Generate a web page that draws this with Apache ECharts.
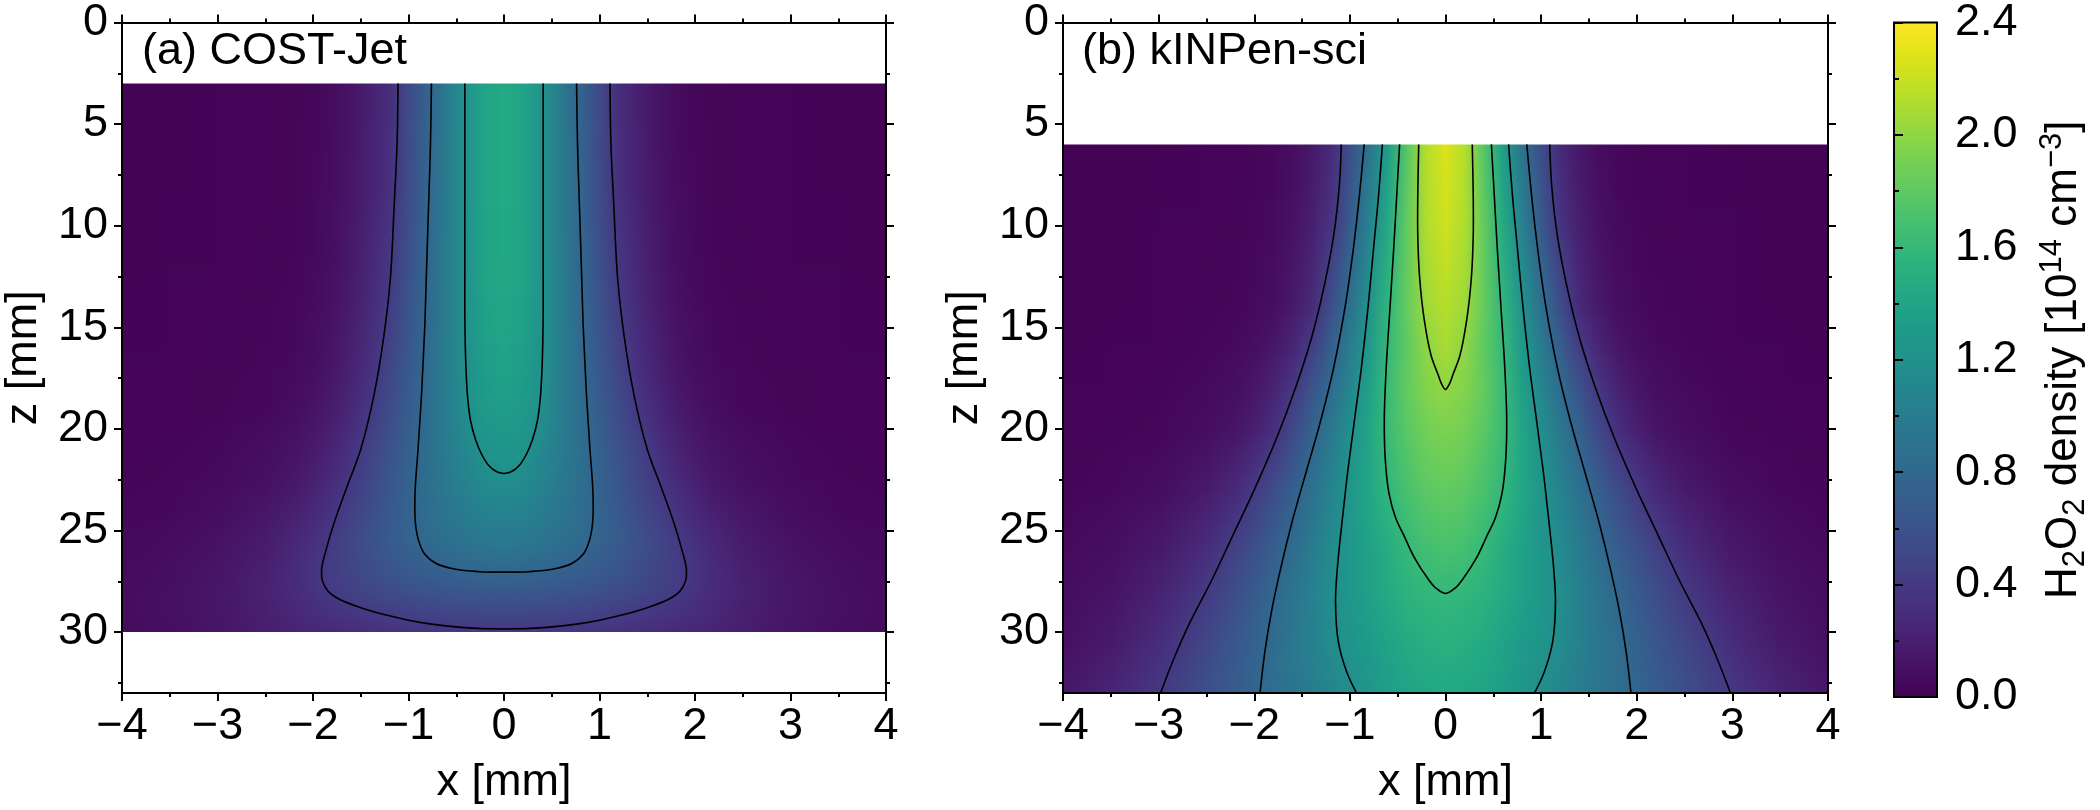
<!DOCTYPE html>
<html>
<head>
<meta charset="UTF-8">
<title>H2O2 density maps</title>
<script src="https://cdn.jsdelivr.net/npm/echarts@6.0.0/dist/echarts.min.js"></script>
<style>html,body{margin:0;padding:0;background:#fff;}</style>
</head>
<body>
<div id="chart" style="width:2100px;height:810px;"></div>
<script>
var FONT = '"Liberation Sans", Arial, sans-serif';
var FS = 45;

// half profile positions in mm, the maps are symmetric about x = 0
var xSamples = [0, 0.2, 0.4, 0.6, 0.8, 1.0, 1.2, 1.4, 1.6, 1.8, 2.0, 2.2, 2.5, 3.0, 3.5, 4.0];

// (a) COST-Jet, density [1e14 cm^-3] per row z
var zRowsA = [3, 8, 13, 17, 19, 21, 22.5, 24, 25.5, 27, 28, 29, 30];
var densA = [
  [1.45,1.40,1.21,0.98,0.75,0.52,0.31,0.21,0.13,0.07,0.04,0.03,0.02,0.02,0.01,0.01],
  [1.45,1.40,1.21,0.99,0.78,0.54,0.33,0.22,0.14,0.08,0.05,0.03,0.02,0.02,0.01,0.01],
  [1.43,1.38,1.21,1.00,0.80,0.60,0.40,0.27,0.17,0.10,0.06,0.04,0.03,0.02,0.02,0.01],
  [1.38,1.33,1.20,1.01,0.83,0.66,0.49,0.33,0.22,0.14,0.09,0.06,0.04,0.03,0.02,0.02],
  [1.33,1.29,1.18,1.01,0.85,0.69,0.54,0.39,0.27,0.18,0.12,0.08,0.05,0.03,0.02,0.02],
  [1.25,1.22,1.11,0.99,0.86,0.73,0.60,0.47,0.34,0.24,0.17,0.12,0.08,0.05,0.03,0.02],
  [1.18,1.15,1.07,0.97,0.86,0.75,0.63,0.51,0.39,0.29,0.21,0.15,0.10,0.06,0.04,0.03],
  [1.08,1.06,1.00,0.93,0.85,0.76,0.66,0.55,0.45,0.35,0.27,0.20,0.14,0.08,0.05,0.04],
  [0.98,0.96,0.92,0.87,0.82,0.76,0.68,0.59,0.50,0.41,0.33,0.26,0.18,0.11,0.07,0.05],
  [0.80,0.79,0.77,0.74,0.71,0.67,0.62,0.56,0.49,0.43,0.36,0.29,0.21,0.13,0.09,0.06],
  [0.67,0.66,0.65,0.63,0.61,0.58,0.54,0.50,0.45,0.41,0.35,0.29,0.22,0.14,0.10,0.07],
  [0.52,0.52,0.51,0.50,0.48,0.46,0.44,0.41,0.38,0.35,0.31,0.27,0.21,0.14,0.10,0.07],
  [0.38,0.38,0.38,0.37,0.36,0.35,0.34,0.32,0.30,0.28,0.26,0.23,0.19,0.13,0.09,0.07]
];

// (b) kINPen-sci
var zRowsB = [6, 10, 14, 16, 18, 20, 23, 26, 28, 30.5, 33];
var densB = [
  [2.27,2.13,1.76,1.33,0.91,0.55,0.28,0.15,0.08,0.05,0.03,0.02,0.02,0.01,0.01,0.01],
  [2.22,2.11,1.82,1.46,1.06,0.68,0.36,0.20,0.11,0.06,0.04,0.03,0.02,0.02,0.01,0.01],
  [2.13,2.05,1.83,1.57,1.22,0.88,0.56,0.28,0.16,0.09,0.06,0.04,0.03,0.02,0.01,0.01],
  [2.08,1.99,1.80,1.60,1.29,1.00,0.71,0.43,0.25,0.14,0.09,0.06,0.04,0.02,0.02,0.01],
  [2.00,1.95,1.82,1.63,1.36,1.09,0.83,0.60,0.38,0.23,0.14,0.09,0.06,0.03,0.02,0.02],
  [1.93,1.89,1.78,1.63,1.41,1.18,0.95,0.73,0.51,0.32,0.20,0.13,0.08,0.04,0.03,0.02],
  [1.82,1.79,1.70,1.58,1.42,1.25,1.07,0.88,0.71,0.55,0.40,0.28,0.17,0.08,0.05,0.03],
  [1.70,1.67,1.60,1.48,1.37,1.26,1.14,0.99,0.84,0.71,0.58,0.46,0.31,0.16,0.09,0.06],
  [1.60,1.58,1.54,1.46,1.37,1.27,1.17,1.04,0.91,0.79,0.67,0.56,0.40,0.22,0.12,0.08],
  [1.52,1.50,1.46,1.39,1.31,1.23,1.15,1.04,0.94,0.84,0.74,0.64,0.50,0.30,0.17,0.10],
  [1.44,1.43,1.39,1.33,1.25,1.17,1.09,1.01,0.93,0.86,0.78,0.70,0.58,0.39,0.24,0.15]
];

// contour lines, left half (x <= 0), mirrored for the right side
var contourA04 = [[-1.11,3],[-1.12,6],[-1.15,9],[-1.19,12.6],[-1.26,15.5],[-1.36,18.3],[-1.50,21],[-1.64,22.8],[-1.77,24.5],[-1.86,25.9],[-1.91,26.9],[-1.90,27.5],[-1.84,28.0],[-1.72,28.4],[-1.50,28.8],[-1.20,29.2],[-0.85,29.55],[-0.45,29.77],[0,29.85]];
var contourA08 = [[-0.76,3],[-0.77,6],[-0.79,9],[-0.81,12],[-0.83,15],[-0.86,18],[-0.90,21],[-0.93,23],[-0.93,24.5],[-0.90,25.4],[-0.84,26.1],[-0.72,26.6],[-0.52,26.9],[-0.26,27.03],[0,27.05]];
var contourA12 = [[-0.41,3],[-0.41,6],[-0.41,9],[-0.41,12],[-0.41,14.5],[-0.40,16.8],[-0.38,18.5],[-0.35,19.6],[-0.30,20.5],[-0.24,21.2],[-0.16,21.8],[-0.08,22.1],[0,22.2]];

var contourB04 = [[-1.09,6],[-1.11,8],[-1.17,10.5],[-1.27,13],[-1.40,15.5],[-1.57,18],[-1.77,20.5],[-2.00,23],[-2.23,25.3],[-2.45,27.5],[-2.67,29.5],[-2.84,31.3],[-2.98,33]];
var contourB08 = [[-0.85,6],[-0.90,8.5],[-0.96,11],[-1.05,14],[-1.17,17],[-1.30,19.5],[-1.45,22],[-1.60,24.5],[-1.73,27],[-1.82,29],[-1.89,31],[-1.94,33]];
var contourB12 = [[-0.66,6],[-0.70,8.5],[-0.75,11],[-0.81,14],[-0.88,17],[-0.95,19.5],[-1.02,22],[-1.08,24.5],[-1.13,26.8],[-1.15,28.5],[-1.12,30.5],[-1.03,32],[-0.93,33]];
var contourB16 = [[-0.48,6],[-0.51,8.5],[-0.54,11],[-0.58,14],[-0.62,17],[-0.64,19.5],[-0.63,21.5],[-0.59,23.2],[-0.52,24.4],[-0.43,25.3],[-0.33,26.3],[-0.18,27.4],[-0.11,27.8],[0,28.1]];
var contourB20 = [[-0.28,6],[-0.29,8.5],[-0.29,10.5],[-0.27,12.6],[-0.22,14.7],[-0.15,16.4],[-0.08,17.3],[-0.04,17.8],[0,18.06]];

var zMajor = [0, 5, 10, 15, 20, 25, 30];
var zMinor = [2.5, 7.5, 12.5, 17.5, 22.5, 27.5, 32.5];

var viridis = ['#440154','#471365','#482475','#463480','#414487','#3b528b','#355f8d','#2f6c8e','#2a788e','#25848e',
  '#21918c','#1e9c89','#22a884','#2fb47c','#44bf70','#5ec962','#7ad151','#9bd93c','#bddf26','#dfe318','#fde725'];
var VMAX = 2.4;

function hex(c) { return [parseInt(c.substr(1,2),16), parseInt(c.substr(3,2),16), parseInt(c.substr(5,2),16)]; }
function cmap(v) {
  var t = Math.max(0, Math.min(1, v / VMAX)) * (viridis.length - 1);
  var i = Math.min(Math.floor(t), viridis.length - 2), f = t - i;
  var a = hex(viridis[i]), b = hex(viridis[i + 1]);
  return 'rgb(' + Math.round(a[0] + (b[0]-a[0])*f) + ',' + Math.round(a[1] + (b[1]-a[1])*f) + ',' + Math.round(a[2] + (b[2]-a[2])*f) + ')';
}
function profileStops(prof) {
  var stops = [], j;
  for (j = xSamples.length - 1; j > 0; j--) stops.push({offset: (4 - xSamples[j]) / 8, color: cmap(prof[j])});
  for (j = 0; j < xSamples.length; j++) stops.push({offset: (4 + xSamples[j]) / 8, color: cmap(prof[j])});
  return stops;
}

// field drawn band by band, each band shaded between its two measured rows
function fieldSeries(g, zRows, dens) {
  return {
    type: 'custom', xAxisIndex: g * 2, yAxisIndex: g * 4, silent: true, clip: true, z: 1,
    data: zRows.slice(0, -1).map(function (z, i) { return [0, z, i]; }),
    renderItem: function (params, api) {
      var i = api.value(2);
      var a = api.coord([-4, zRows[i]]), b = api.coord([4, zRows[i + 1]]);
      var h = b[1] - a[1], n = Math.max(1, Math.ceil(h / 3)), kids = [];
      var last = i === zRows.length - 2;
      for (var k = 0; k < n; k++) {
        var t = (k + 0.5) / n;
        var prof = dens[i].map(function (v, j) { return v + (dens[i + 1][j] - v) * t; });
        kids.push({
          type: 'rect',
          shape: {x: a[0], y: a[1] + h * k / n, width: b[0] - a[0], height: (last && k === n - 1) ? h / n : h / n + 0.8},
          style: {fill: new echarts.graphic.LinearGradient(0, 0, 1, 0, profileStops(prof))}
        });
      }
      return {type: 'group', children: kids};
    }
  };
}

function mirror(pts) { return pts.map(function (p) { return [-p[0], p[1]]; }); }
function closed(pts) { return pts.concat(mirror(pts.slice(0, -1)).reverse()); }

// smooth curve through the contour points (centripetal Catmull-Rom as cubic Beziers)
function curvePath(p) {
  function ctrl(a, b, c, da, db) {
    return [0, 1].map(function (k) {
      return (da * da * c[k] - db * db * a[k] + (2 * da * da + 3 * da * db + db * db) * b[k]) / (3 * da * (da + db));
    });
  }
  function d(a, b) { return Math.sqrt(Math.hypot(b[0] - a[0], b[1] - a[1])); }
  var s = 'M' + p[0][0].toFixed(2) + ' ' + p[0][1].toFixed(2);
  for (var i = 0; i < p.length - 1; i++) {
    var p0 = p[Math.max(i - 1, 0)], p1 = p[i], p2 = p[i + 1], p3 = p[Math.min(i + 2, p.length - 1)];
    var d1 = d(p0, p1), d2 = d(p1, p2), d3 = d(p2, p3);
    var c1 = d1 > 1e-6 ? ctrl(p0, p1, p2, d1, d2) : p1;
    var c2 = d3 > 1e-6 ? ctrl(p3, p2, p1, d3, d2) : p2;
    s += ' C' + c1[0].toFixed(2) + ' ' + c1[1].toFixed(2) + ' ' + c2[0].toFixed(2) + ' ' + c2[1].toFixed(2) + ' ' + p2[0].toFixed(2) + ' ' + p2[1].toFixed(2);
  }
  return s;
}
function contour(g, pts) {
  return {
    type: 'custom', xAxisIndex: g * 2, yAxisIndex: g * 4, data: pts, silent: true, clip: true, z: 3,
    renderItem: function (params, api) {
      if (params.dataIndex !== 0) return null;
      var px = pts.map(function (q) { return api.coord(q); });
      return {type: 'path', shape: {pathData: curvePath(px)}, style: {fill: null, stroke: '#000', lineWidth: 1.6}};
    }
  };
}

var tickStyle = {color: '#000', width: 2};
var labelStyle = {color: '#000', fontSize: FS, fontFamily: FONT};

function xAxes(g) {
  var base = {
    gridIndex: g, type: 'value', min: -4, max: 4, interval: 1, z: 5,
    axisLine: {show: true, onZero: false, lineStyle: tickStyle},
    axisTick: {show: true, inside: false, length: 8, lineStyle: tickStyle},
    minorTick: {show: true, splitNumber: 2, length: 4, lineStyle: tickStyle},
    splitLine: {show: false}, minorSplitLine: {show: false}
  };
  return [
    Object.assign({}, base, {
      position: 'bottom',
      axisLabel: Object.assign({margin: 11, formatter: function (v) { return v < 0 ? '\u2212' + Math.abs(v) : String(v); }}, labelStyle),
      name: 'x [mm]', nameLocation: 'middle', nameGap: 67, nameTextStyle: labelStyle
    }),
    Object.assign({}, base, {position: 'top', axisLabel: {show: false}})
  ];
}

function yAxes(g) {
  var base = {
    gridIndex: g, type: 'value', min: 0, max: 33, interval: 5, inverse: true, z: 5,
    splitLine: {show: false}
  };
  function side(pos, major) {
    return Object.assign({}, base, {
      position: pos,
      axisLine: {show: major, onZero: false, lineStyle: tickStyle},
      axisTick: {show: true, inside: false, length: major ? 8 : 4, customValues: major ? zMajor : zMinor, lineStyle: tickStyle},
      axisLabel: {show: false}
    });
  }
  var left = side('left', true);
  left.axisLabel = Object.assign({show: true, margin: 14, customValues: zMajor}, labelStyle);
  left.name = 'z [mm]';
  left.nameLocation = 'middle';
  left.nameGap = 76;
  left.nameRotate = 90;
  left.nameTextStyle = labelStyle;
  return [left, side('left', false), side('right', true), side('right', false)];
}

var chart = echarts.init(document.getElementById('chart'), null, {renderer: 'canvas'});

var option = {
  backgroundColor: '#fff',
  animation: false,
  title: [
    {text: '(a) COST-Jet', left: 142, top: 29, padding: 0, textStyle: {fontSize: FS, fontWeight: 'normal', fontFamily: FONT, color: '#000'}},
    {text: '(b) kINPen-sci', left: 1082, top: 29, padding: 0, textStyle: {fontSize: FS, fontWeight: 'normal', fontFamily: FONT, color: '#000'}}
  ],
  grid: [
    {left: 122, top: 20, width: 764, height: 677},
    {left: 1063, top: 20, width: 765, height: 677},
    {left: 1894, top: 20, width: 43, height: 677}
  ],
  xAxis: xAxes(0).concat(xAxes(1)).concat([{gridIndex: 2, type: 'value', min: 0, max: 1, show: false}]),
  yAxis: yAxes(0).concat(yAxes(1)).concat([{
    gridIndex: 2, type: 'value', min: 0, max: 2.4, interval: 0.4, position: 'right', z: 5,
    axisLine: {show: false},
    axisTick: {show: true, inside: false, length: 9, lineStyle: tickStyle},
    minorTick: {show: true, splitNumber: 2, length: 5, lineStyle: tickStyle},
    splitLine: {show: false}, minorSplitLine: {show: false},
    axisLabel: Object.assign({margin: 18, formatter: function (v) { return v.toFixed(1); }}, labelStyle),
    name: 'H{sub|2}O{sub|2} density [10{sup|14} cm{sup|\u22123}]',
    nameLocation: 'middle', nameRotate: 90, nameGap: 100,
    nameTextStyle: {
      color: '#000', fontSize: 44, fontFamily: FONT, lineHeight: 54,
      rich: {
        sub: {fontSize: 31, lineHeight: 31, verticalAlign: 'bottom', fontFamily: FONT, color: '#000'},
        sup: {fontSize: 31, lineHeight: 31, verticalAlign: 'top', fontFamily: FONT, color: '#000'}
      }
    }
  }]),
  series: [
    fieldSeries(0, zRowsA, densA),
    fieldSeries(1, zRowsB, densB),
    contour(0, closed(contourA04)),
    contour(0, closed(contourA08)),
    contour(0, closed(contourA12)),
    contour(1, contourB04), contour(1, mirror(contourB04)),
    contour(1, contourB08), contour(1, mirror(contourB08)),
    contour(1, contourB12), contour(1, mirror(contourB12)),
    contour(1, closed(contourB16)),
    contour(1, closed(contourB20)),
    {
      type: 'custom', xAxisIndex: 4, yAxisIndex: 8, silent: true, z: 4,
      data: [[0, 0]],
      renderItem: function (params, api) {
        var a = api.coord([0, VMAX]), b = api.coord([1, 0]);
        var stops = viridis.map(function (c, k) { return {offset: 1 - k / (viridis.length - 1), color: c}; }).reverse();
        return {
          type: 'rect',
          shape: {x: a[0], y: a[1], width: b[0] - a[0], height: b[1] - a[1]},
          style: {fill: new echarts.graphic.LinearGradient(0, 0, 0, 1, stops), stroke: '#000', lineWidth: 2}
        };
      }
    }
  ]
};
chart.setOption(option);
</script>
</body>
</html>
